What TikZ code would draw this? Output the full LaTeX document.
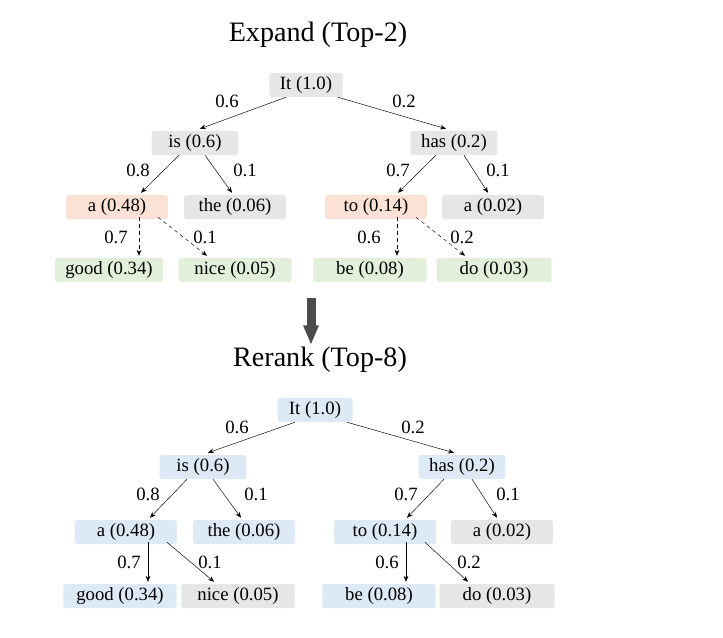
\documentclass[tikz,border=0pt]{standalone}
\usepackage{fontspec}
\setmainfont{Liberation Serif}
\usetikzlibrary{calc,arrows.meta}
\definecolor{boxgray}{HTML}{E6E6E6}
\definecolor{boxorange}{HTML}{FBE2D5}
\definecolor{boxgreen}{HTML}{E2EFDA}
\definecolor{boxblue}{HTML}{DDE9F5}
\tikzset{
  tok/.style={rounded corners=2pt, minimum height=0.72cm, inner sep=1pt, font=\fontsize{16}{18}\selectfont},
  prob/.style={font=\fontsize{16}{18}\selectfont, inner sep=0pt},
  title/.style={font=\fontsize{24}{28}\selectfont},
  edge/.style={-{Stealth[length=5pt,width=4pt]}, thin},
  guess/.style={edge, dashed}
}
\begin{document}
\begin{tikzpicture}[x=0.03cm, y=-0.03cm]
  \useasboundingbox (0,0) rectangle (723,637);

  % expand
  \node[title] (exp) at (318,35) {Expand (Top-2)};
  \node[tok, fill=boxgray, minimum width=2.2cm] (it) at (306,85) {It (1.0)};
  \node[tok, fill=boxgray, minimum width=2.6cm] (is) at (195,143) {is (0.6)};
  \node[tok, fill=boxgray, minimum width=2.6cm] (has) at (454,143) {has (0.2)};
  \node[tok, fill=boxorange, minimum width=3.05cm] (a) at (117,207) {a (0.48)};
  \node[tok, fill=boxgray, minimum width=3.05cm] (the) at (235,207) {the (0.06)};
  \node[tok, fill=boxorange, minimum width=3.05cm] (to) at (376,207) {to (0.14)};
  \node[tok, fill=boxgray, minimum width=3.05cm] (ab) at (493,207) {a (0.02)};
  \node[tok, fill=boxgreen, minimum width=3.25cm] (good) at (109,270) {good (0.34)};
  \node[tok, fill=boxgreen, minimum width=3.4cm] (nice) at (235,270) {nice (0.05)};
  \node[tok, fill=boxgreen, minimum width=3.4cm] (be) at (370,270) {be (0.08)};
  \node[tok, fill=boxgreen, minimum width=3.45cm] (do) at (494,270) {do (0.03)};

  \draw[edge] ($(it.south)+(-20,0)$) -- ($(is.north)+(5,-2)$);
  \draw[edge] ($(it.south)+(32,0)$) -- ($(has.north)+(-8,-2)$);
  \draw[edge] ($(is.south)+(-16,0)$) -- ($(a.north)+(24,-2)$);
  \draw[edge] ($(is.south)+(10,0)$) -- ($(the.north)+(-3,-2)$);
  \draw[edge] ($(has.south)+(-18,0)$) -- ($(to.north)+(22,-2)$);
  \draw[edge] ($(has.south)+(10,0)$) -- ($(ab.north)+(-5,-2)$);
  \draw[guess] ($(a.south)+(22,-2)$) -- ($(good.north)+(30,-2)$);
  \draw[guess] ($(a.south)+(41,-2)$) -- ($(nice.north)+(-28,-2)$);
  \draw[guess] ($(to.south)+(21,-2)$) -- ($(be.north)+(27,-2)$);
  \draw[guess] ($(to.south)+(40,-2)$) -- ($(do.north)+(-29,-2)$);

  \node[prob] at (227,101) {0.6};
  \node[prob] at (404,101) {0.2};
  \node[prob] at (138,170) {0.8};
  \node[prob] at (245,170) {0.1};
  \node[prob] at (398,170) {0.7};
  \node[prob] at (498,170) {0.1};
  \node[prob] at (116,237) {0.7};
  \node[prob] at (205,237) {0.1};
  \node[prob] at (369,237) {0.6};
  \node[prob] at (462,237) {0.2};

  % big arrow
  \node[fill=black!70, minimum width=0.27cm, minimum height=0.85cm, inner sep=0pt] (shaft) at (311,312) {};
  \coordinate (tip) at (311,344);
  \fill[black!70] ($(shaft.south)+(-8,-1)$) -- ($(shaft.south)+(8,-1)$) -- (tip) -- cycle;

  % rerank
  \node[title] (rer) at (320,360) {Rerank (Top-8)};
  \node[tok, fill=boxblue, minimum width=2.25cm] (rit) at (315,410) {It (1.0)};
  \node[tok, fill=boxblue, minimum width=2.6cm] (ris) at (203,467) {is (0.6)};
  \node[tok, fill=boxblue, minimum width=2.6cm] (rhas) at (462,467) {has (0.2)};
  \node[tok, fill=boxblue, minimum width=3.05cm] (ra) at (126,532) {a (0.48)};
  \node[tok, fill=boxblue, minimum width=3.05cm] (rthe) at (244,532) {the (0.06)};
  \node[tok, fill=boxblue, minimum width=3.05cm] (rto) at (385,532) {to (0.14)};
  \node[tok, fill=boxgray, minimum width=3.05cm] (rab) at (502,532) {a (0.02)};
  \node[tok, fill=boxblue, minimum width=3.4cm] (rgood) at (120,596) {good (0.34)};
  \node[tok, fill=boxgray, minimum width=3.4cm] (rnice) at (238,596) {nice (0.05)};
  \node[tok, fill=boxblue, minimum width=3.4cm] (rbe) at (379,596) {be (0.08)};
  \node[tok, fill=boxgray, minimum width=3.45cm] (rdo) at (497,596) {do (0.03)};

  \draw[edge] ($(rit.south)+(-20,0)$) -- ($(ris.north)+(5,-2)$);
  \draw[edge] ($(rit.south)+(32,0)$) -- ($(rhas.north)+(-8,-2)$);
  \draw[edge] ($(ris.south)+(-16,0)$) -- ($(ra.north)+(24,-2)$);
  \draw[edge] ($(ris.south)+(10,0)$) -- ($(rthe.north)+(-3,-2)$);
  \draw[edge] ($(rhas.south)+(-18,0)$) -- ($(rto.north)+(22,-2)$);
  \draw[edge] ($(rhas.south)+(10,0)$) -- ($(rab.north)+(-5,-2)$);
  \draw[edge] ($(ra.south)+(22,-2)$) -- ($(rgood.north)+(28,-2)$);
  \draw[edge] ($(ra.south)+(41,-2)$) -- ($(rnice.north)+(-24,-2)$);
  \draw[edge] ($(rto.south)+(21,-2)$) -- ($(rbe.north)+(27,-2)$);
  \draw[edge] ($(rto.south)+(40,-2)$) -- ($(rdo.north)+(-29,-2)$);

  \node[prob] at (237,427) {0.6};
  \node[prob] at (413,427) {0.2};
  \node[prob] at (148,494) {0.8};
  \node[prob] at (256,494) {0.1};
  \node[prob] at (406,494) {0.7};
  \node[prob] at (508,494) {0.1};
  \node[prob] at (129,562) {0.7};
  \node[prob] at (210,562) {0.1};
  \node[prob] at (387,562) {0.6};
  \node[prob] at (469,562) {0.2};
\end{tikzpicture}
\end{document}
